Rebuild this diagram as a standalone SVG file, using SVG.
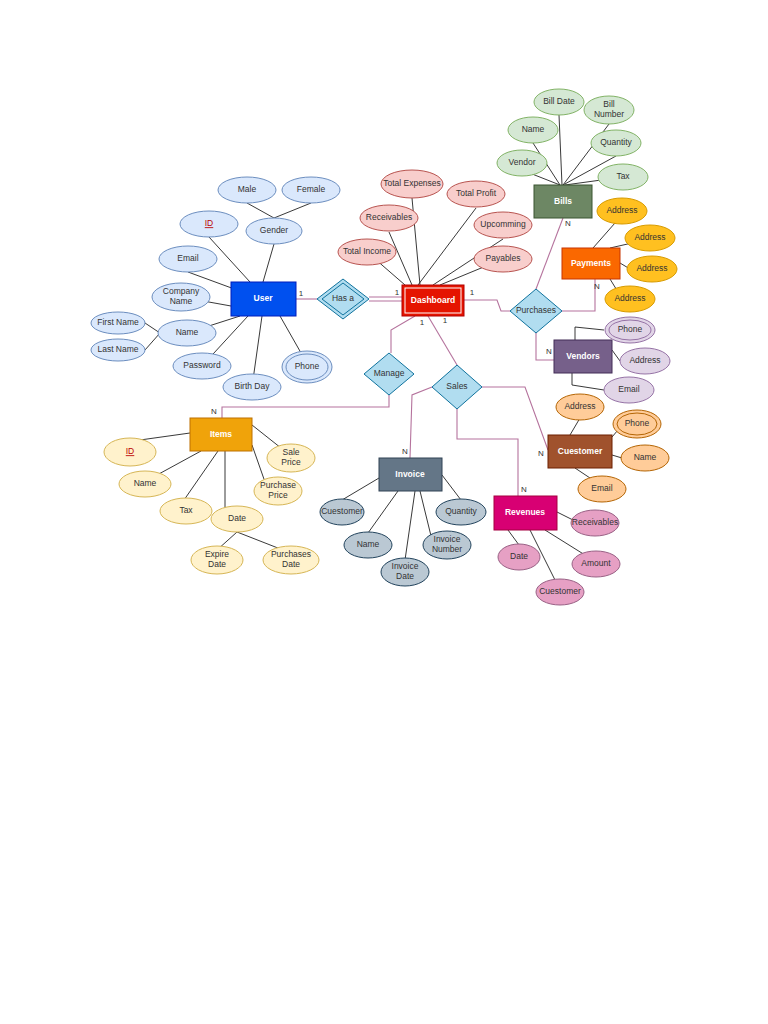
<svg xmlns="http://www.w3.org/2000/svg" width="768" height="1024" viewBox="0 0 768 1024">
<style>
text{font-family:"Liberation Sans",Arial,sans-serif;font-size:8.5px;fill:#333;text-anchor:middle;dominant-baseline:middle}
.w{fill:#fff;font-weight:bold}
.a{stroke:#222;stroke-width:0.9;fill:none}
.r{stroke:#b5739d;stroke-width:1.1;fill:none}
.bl{fill:#dae8fc;stroke:#6c8ebf}
.rd{fill:#f8cecc;stroke:#b85450}
.gr{fill:#d5e8d4;stroke:#82b366}
.or{fill:#ffc020;stroke:#d79b00}
.pu{fill:#e1d5e7;stroke:#9673a6}
.pe{fill:#ffcc99;stroke:#b46504}
.pk{fill:#e6a0c4;stroke:#996185}
.gy{fill:#bac8d3;stroke:#23445d}
.ye{fill:#fff2cc;stroke:#d6b656}
.d{fill:#b1ddf0;stroke:#10739e}
.c{font-size:8px;fill:#333}
</style>
<rect width="768" height="1024" fill="#fff"/>
<g id="connectors">
<g class="a">
<path d="M247,203 L274,218 L311,203"/>
<path d="M274,244 L263,282"/><path d="M209,237 L250,282"/><path d="M188,272 L237,290"/>
<path d="M181,297 L231,306"/><path d="M187,333 L240,316"/><path d="M145,323 L160,333 L145,350"/>
<path d="M202,366 L248,316"/><path d="M252,387 L262,316"/><path d="M309,367 L280,316"/>
<path d="M412,198 L420,285"/><path d="M389,232 L412,285"/><path d="M367,252 L405,285"/>
<path d="M476,208 L418,285"/><path d="M503,239 L433,285"/><path d="M503,259 L440,285"/>
<path d="M559,115 L562,185"/><path d="M609,124 L563,185"/><path d="M533,143 L560,185"/>
<path d="M616,156 L563,185"/><path d="M522,170 L560,185"/><path d="M623,177 L565,185"/>
<path d="M615,223 L593,248"/><path d="M632,243 L610,248"/><path d="M630,269 L620,263"/><path d="M618,292 L610,279"/>
<path d="M604,330 L575,327 L575,340"/><path d="M620,361 L612,350"/><path d="M604,390 L572,385 L572,373"/>
<path d="M580,418 L570,435"/><path d="M618,430 L612,437"/><path d="M622,458 L612,455"/><path d="M590,478 L575,468"/>
<path d="M342,500 L379,478"/><path d="M461,500 L442,475"/><path d="M368,533 L398,491"/>
<path d="M432,540 L420,491"/><path d="M405,560 L415,491"/>
<path d="M573,520 L557,512"/><path d="M519,545 L508,530"/><path d="M585,555 L545,530"/><path d="M555,580 L530,530"/>
<path d="M140,440 L190,433"/><path d="M157,475 L201,451"/><path d="M184,500 L218,451"/>
<path d="M225,510 L225,451"/><path d="M281,448 L252,425"/><path d="M265,482 L252,445"/>
<path d="M217,550 L237,532 L283,550"/>
</g>
<g class="r">
<path d="M296,299 L317,299"/>
<path d="M369,297 L402,297"/><path d="M369,301 L402,301"/>
<path d="M464,300 L497,300 L501,311 L510,311"/>
<path d="M536,289 L563,218"/>
<path d="M562,311 L595,311 L595,279"/>
<path d="M536,333 L536,360 L554,360"/>
<path d="M415,316 L391,330 L391,353"/>
<path d="M389,395 L389,407 L222,407 L222,418"/>
<path d="M428,316 L457,365"/>
<path d="M432,387 L412,395 L410,458"/>
<path d="M457,409 L457,439 L518,439 L518,496"/>
<path d="M482,387 L525,387 L548,450"/>
</g>
<text x="301" y="294" class="c">1</text><text x="397" y="293" class="c">1</text>
<text x="472" y="293" class="c">1</text><text x="568" y="224" class="c">N</text>
<text x="597" y="287" class="c">N</text><text x="549" y="352" class="c">N</text>
<text x="422" y="323" class="c">1</text><text x="445" y="321" class="c">1</text>
<text x="214" y="412" class="c">N</text><text x="405" y="452" class="c">N</text>
<text x="524" y="490" class="c">N</text><text x="541" y="454" class="c">N</text>
</g>
<g id="user"><rect x="231" y="282" width="65" height="34" fill="#0050ef" stroke="#001dbc"/><text x="263" y="299" class="w">User</text></g>
<g id="dashboard"><rect x="402" y="285" width="62" height="31" fill="#e51400" stroke="#b20000"/><rect x="405" y="288" width="56" height="25" fill="none" stroke="#fff"/><text x="433" y="301" class="w">Dashboard</text></g>
<g id="bills"><rect x="534" y="185" width="58" height="33" fill="#6d8764" stroke="#3a5431"/><text x="563" y="202" class="w">Bills</text></g>
<g id="payments"><rect x="562" y="248" width="58" height="31" fill="#fa6800" stroke="#c73500"/><text x="591" y="264" class="w">Payments</text></g>
<g id="vendors"><rect x="554" y="340" width="58" height="33" fill="#76608a" stroke="#432d57"/><text x="583" y="357" class="w">Vendors</text></g>
<g id="cuestomer"><rect x="548" y="435" width="64" height="33" fill="#a0522d" stroke="#6d1f00"/><text x="580" y="452" class="w">Cuestomer</text></g>
<g id="revenues"><rect x="494" y="496" width="63" height="34" fill="#d80073" stroke="#a50040"/><text x="525" y="513" class="w">Revenues</text></g>
<g id="invoice"><rect x="379" y="458" width="63" height="33" fill="#647687" stroke="#314354"/><text x="410" y="475" class="w">Invoice</text></g>
<g id="items"><rect x="190" y="418" width="62" height="33" fill="#f0a30a" stroke="#bd7000"/><text x="221" y="435" class="w">Items</text></g>
<g id="hasa"><path d="M343,279 L369,299 L343,319 L317,299Z" class="d"/><path d="M343,283 L364,299 L343,315 L322,299Z" fill="none" stroke="#10739e"/><text x="343" y="299">Has a</text></g>
<g id="purchases"><path d="M536,289 L562,311 L536,333 L510,311Z" class="d"/><text x="536" y="311">Purchases</text></g>
<g id="manage"><path d="M389,353 L414,374 L389,395 L364,374Z" class="d"/><text x="389" y="374">Manage</text></g>
<g id="sales"><path d="M457,365 L482,387 L457,409 L432,387Z" class="d"/><text x="457" y="387">Sales</text></g>
<g id="u-attrs">
<g><ellipse cx="247" cy="190" rx="29" ry="13" class="bl"/><text x="247" y="190">Male</text></g>
<g><ellipse cx="311" cy="190" rx="29" ry="13" class="bl"/><text x="311" y="190">Female</text></g>
<g><ellipse cx="209" cy="224" rx="29" ry="13" class="bl"/><text x="209" y="224" fill="#b00" text-decoration="underline" style="fill:#b00">ID</text></g>
<g><ellipse cx="274" cy="231" rx="28" ry="13" class="bl"/><text x="274" y="231">Gender</text></g>
<g><ellipse cx="188" cy="259" rx="29" ry="13" class="bl"/><text x="188" y="259">Email</text></g>
<g><ellipse cx="181" cy="297" rx="29" ry="14" class="bl"/><text x="181" y="292">Company</text><text x="181" y="302">Name</text></g>
<g><ellipse cx="118" cy="323" rx="27" ry="11" class="bl"/><text x="118" y="323">First Name</text></g>
<g><ellipse cx="118" cy="350" rx="27" ry="11" class="bl"/><text x="118" y="350">Last Name</text></g>
<g><ellipse cx="187" cy="333" rx="29" ry="13" class="bl"/><text x="187" y="333">Name</text></g>
<g><ellipse cx="202" cy="366" rx="29" ry="13" class="bl"/><text x="202" y="366">Password</text></g>
<g><ellipse cx="252" cy="387" rx="29" ry="13" class="bl"/><text x="252" y="387">Birth Day</text></g>
<g><ellipse cx="307" cy="367" rx="25" ry="16" class="bl"/><ellipse cx="307" cy="367" rx="21" ry="13" fill="none" stroke="#6c8ebf"/><text x="307" y="367">Phone</text></g>
</g>
<g id="d-attrs">
<g><ellipse cx="412" cy="184" rx="31" ry="14" class="rd"/><text x="412" y="184">Total Expenses</text></g>
<g><ellipse cx="476" cy="194" rx="29" ry="13" class="rd"/><text x="476" y="194">Total Profit</text></g>
<g><ellipse cx="389" cy="218" rx="29" ry="13" class="rd"/><text x="389" y="218">Receivables</text></g>
<g><ellipse cx="503" cy="225" rx="29" ry="13" class="rd"/><text x="503" y="225">Upcomming</text></g>
<g><ellipse cx="367" cy="252" rx="29" ry="13" class="rd"/><text x="367" y="252">Total Income</text></g>
<g><ellipse cx="503" cy="259" rx="29" ry="13" class="rd"/><text x="503" y="259">Payables</text></g>
</g>
<g id="b-attrs">
<g><ellipse cx="559" cy="102" rx="25" ry="13" class="gr"/><text x="559" y="102">Bill Date</text></g>
<g><ellipse cx="609" cy="110" rx="25" ry="14" class="gr"/><text x="609" y="105">Bill</text><text x="609" y="115">Number</text></g>
<g><ellipse cx="533" cy="130" rx="25" ry="13" class="gr"/><text x="533" y="130">Name</text></g>
<g><ellipse cx="616" cy="143" rx="25" ry="13" class="gr"/><text x="616" y="143">Quantity</text></g>
<g><ellipse cx="522" cy="163" rx="25" ry="13" class="gr"/><text x="522" y="163">Vendor</text></g>
<g><ellipse cx="623" cy="177" rx="25" ry="13" class="gr"/><text x="623" y="177">Tax</text></g>
</g>
<g id="p-attrs">
<g><ellipse cx="622" cy="211" rx="25" ry="13" class="or"/><text x="622" y="211">Address</text></g>
<g><ellipse cx="650" cy="238" rx="25" ry="13" class="or"/><text x="650" y="238">Address</text></g>
<g><ellipse cx="652" cy="269" rx="25" ry="13" class="or"/><text x="652" y="269">Address</text></g>
<g><ellipse cx="630" cy="299" rx="25" ry="13" class="or"/><text x="630" y="299">Address</text></g>
</g>
<g id="v-attrs">
<g><ellipse cx="630" cy="330" rx="25" ry="13" class="pu"/><ellipse cx="630" cy="330" rx="21" ry="10" fill="none" stroke="#9673a6"/><text x="630" y="330">Phone</text></g>
<g><ellipse cx="645" cy="361" rx="25" ry="13" class="pu"/><text x="645" y="361">Address</text></g>
<g><ellipse cx="629" cy="390" rx="25" ry="13" class="pu"/><text x="629" y="390">Email</text></g>
</g>
<g id="c-attrs">
<g><ellipse cx="580" cy="407" rx="24" ry="13" class="pe"/><text x="580" y="407">Address</text></g>
<g><ellipse cx="637" cy="424" rx="24" ry="14" class="pe"/><ellipse cx="637" cy="424" rx="20" ry="11" fill="none" stroke="#b46504"/><text x="637" y="424">Phone</text></g>
<g><ellipse cx="645" cy="458" rx="24" ry="13" class="pe"/><text x="645" y="458">Name</text></g>
<g><ellipse cx="602" cy="489" rx="24" ry="13" class="pe"/><text x="602" y="489">Email</text></g>
</g>
<g id="r-attrs">
<g><ellipse cx="595" cy="523" rx="24" ry="13" class="pk"/><text x="595" y="523">Receivables</text></g>
<g><ellipse cx="519" cy="557" rx="21" ry="13" class="pk"/><text x="519" y="557">Date</text></g>
<g><ellipse cx="596" cy="564" rx="24" ry="13" class="pk"/><text x="596" y="564">Amount</text></g>
<g><ellipse cx="560" cy="592" rx="24" ry="13" class="pk"/><text x="560" y="592">Cuestomer</text></g>
</g>
<g id="i-attrs">
<g><ellipse cx="342" cy="512" rx="22" ry="13" class="gy"/><text x="342" y="512">Cuestomer</text></g>
<g><ellipse cx="461" cy="512" rx="25" ry="13" class="gy"/><text x="461" y="512">Quantity</text></g>
<g><ellipse cx="368" cy="545" rx="24" ry="13" class="gy"/><text x="368" y="545">Name</text></g>
<g><ellipse cx="447" cy="545" rx="24" ry="14" class="gy"/><text x="447" y="540">Invoice</text><text x="447" y="550">Number</text></g>
<g><ellipse cx="405" cy="572" rx="24" ry="14" class="gy"/><text x="405" y="567">Invoice</text><text x="405" y="577">Date</text></g>
</g>
<g id="it-attrs">
<g><ellipse cx="130" cy="452" rx="26" ry="14" class="ye"/><text x="130" y="452" text-decoration="underline" style="fill:#b00">ID</text></g>
<g><ellipse cx="145" cy="484" rx="26" ry="13" class="ye"/><text x="145" y="484">Name</text></g>
<g><ellipse cx="291" cy="458" rx="24" ry="14" class="ye"/><text x="291" y="453">Sale</text><text x="291" y="463">Price</text></g>
<g><ellipse cx="278" cy="491" rx="24" ry="14" class="ye"/><text x="278" y="486">Purchase</text><text x="278" y="496">Price</text></g>
<g><ellipse cx="186" cy="511" rx="26" ry="13" class="ye"/><text x="186" y="511">Tax</text></g>
<g><ellipse cx="237" cy="519" rx="26" ry="13" class="ye"/><text x="237" y="519">Date</text></g>
<g><ellipse cx="217" cy="560" rx="26" ry="14" class="ye"/><text x="217" y="555">Expire</text><text x="217" y="565">Date</text></g>
<g><ellipse cx="291" cy="560" rx="28" ry="14" class="ye"/><text x="291" y="555">Purchases</text><text x="291" y="565">Date</text></g>
</g>
</svg>
